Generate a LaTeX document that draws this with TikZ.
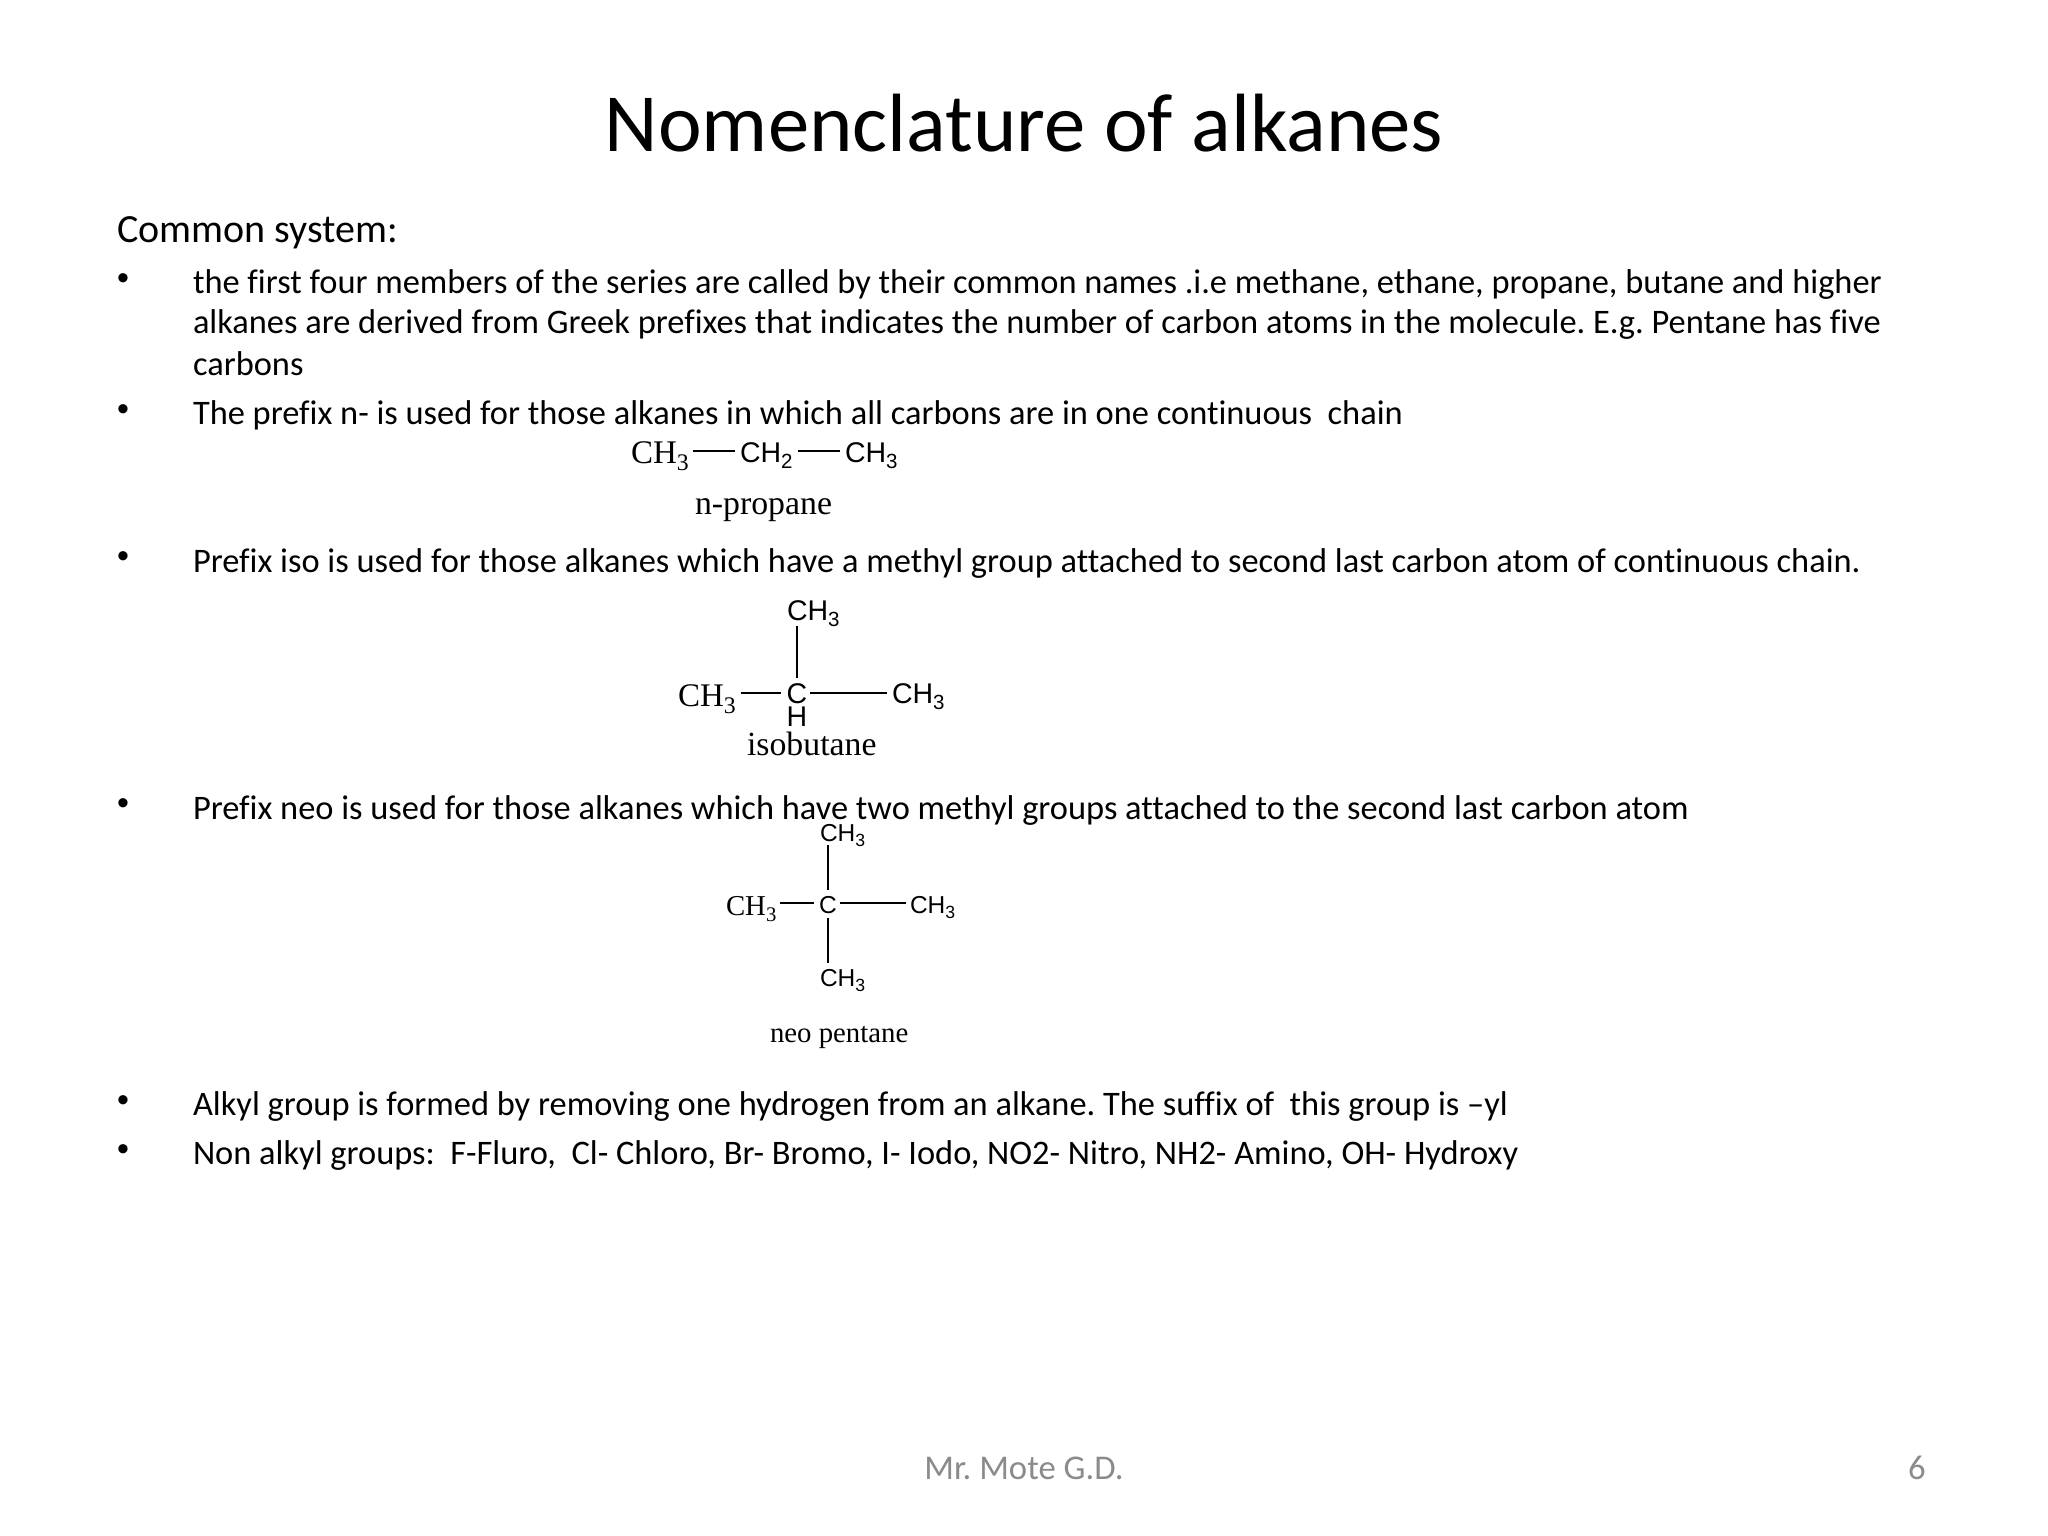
\documentclass[tikz,border=0pt]{standalone}
\usepackage{graphicx}
\usepackage{fontspec}
\setmainfont[Ligatures=NoCommon]{Carlito}
\newfontfamily\chemsans{Liberation Sans}
\newfontfamily\chemserif{Liberation Serif}
\usetikzlibrary{calc}
\frenchspacing
\newcommand\subs[1]{\raisebox{-0.24em}{\scalebox{0.72}{#1}}}
\newcommand\methyl{CH\subs{3}}
\definecolor{footgray}{HTML}{8B8B8B}
\tikzset{
  txt/.style={inner sep=0pt,outer sep=0pt,anchor=base west,text=black},
  slidetitle/.style={inner sep=0pt,anchor=base,font=\fontsize{82.7}{82.7}\selectfont},
  heading/.style={txt,font=\fontsize{40}{40}\selectfont},
  body/.style={txt,font=\fontsize{34.4}{34.4}\selectfont},
  bulletmark/.style={txt,font=\chemsans\fontsize{34}{34}\selectfont},
  footer/.style={inner sep=0pt,text=footgray,font=\fontsize{34.7}{34.7}\selectfont},
  sansA/.style={txt,font=\chemsans\fontsize{28.5}{28.5}\selectfont},
  serifA/.style={txt,font=\chemserif\fontsize{33}{33}\selectfont},
  nameA/.style={txt,font=\chemserif\fontsize{33.8}{33.8}\selectfont},
  sansB/.style={txt,font=\chemsans\fontsize{24.5}{24.5}\selectfont},
  serifB/.style={txt,font=\chemserif\fontsize{28.8}{28.8}\selectfont},
  bond/.style={draw=black,line width=2.4pt},
  thickbond/.style={draw=black,line width=2.8pt},
}
\begin{document}
\begin{tikzpicture}[x=1pt,y=-1pt]
\useasboundingbox (0,0) rectangle (2048,1536);
\fill[white] (0,0) rectangle (2048,1536);
\node[slidetitle] (title) at (1024,152) {Nomenclature of alkanes};
\node[heading] (common) at (117,242) {Common system:};
\foreach \n/\y in {a/289,b/420,c/567,d/814,e/1111,f/1160}
  \node[bulletmark] (bul\n) at (117,\y) {•};
\node[body] (l1) at (193,293) {the first four members of the series are called by their common names .i.e methane, ethane, propane, butane and higher};
\node[body] (l2) at (193,333) {alkanes are derived from Greek prefixes that indicates the number of carbon atoms in the molecule. E.g. Pentane has five};
\node[body] (l3) at (193,375) {carbons};
\node[body] (l4) at (193,424) {The prefix n- is used for those alkanes in which all carbons are in one continuous\ \ chain};
\node[body] (l5) at (193,572) {Prefix iso is used for those alkanes which have a methyl group attached to second last carbon atom of continuous chain.};
\node[body] (l6) at (193,819) {Prefix neo is used for those alkanes which have two methyl groups attached to the second last carbon atom};
\node[body] (l7) at (193,1115) {Alkyl group is formed by removing one hydrogen from an alkane. The suffix of\ \ this group is –yl};
\node[body] (l8) at (193,1164) {Non alkyl groups:\ \ F-Fluro,\ \ Cl- Chloro, Br- Bromo, I- Iodo, NO2- Nitro, NH2- Amino, OH- Hydroxy};
% n-propane
\node[serifA] (p1) at (631,463) {\methyl};
\node[sansA] (p2) at (740,462) {CH\subs{2}};
\node[sansA] (p3) at (845,462) {\methyl};
\node[nameA] (pname) at (695,514) {n-propane};
\draw[thickbond] ($(p1.base east)+(4,-12)$) -- ($(p2.base west)+(-5,-11)$);
\draw[thickbond] ($(p2.base east)+(5,-11)$) -- ($(p3.base west)+(-5,-11)$);
% isobutane
\node[sansA] (i1) at (787,620) {\methyl};
\node[serifA] (i2) at (678,706) {\methyl};
\node[sansA,anchor=base] (i3) at (797,703) {C};
\node[sansA,anchor=base] (i4) at (797,726) {H};
\node[sansA] (i5) at (892,703) {\methyl};
\node[nameA] (iname) at (747,755) {isobutane};
\draw[bond] ($(i3.base)+(0,-77)$) -- ($(i3.base)+(0,-25)$);
\draw[bond] ($(i2.base east)+(5,-13)$) -- ($(i3.base west)+(-6,-10)$);
\draw[bond] ($(i3.base east)+(3,-10)$) -- ($(i5.base west)+(-5,-10)$);
% neopentane
\node[sansB] (n1) at (820,841) {\methyl};
\node[serifB] (n2) at (726,915) {\methyl};
\node[sansB,anchor=base] (n3) at (828,913) {C};
\node[sansB] (n4) at (910,913) {\methyl};
\node[sansB] (n5) at (820,986) {\methyl};
\node[serifB] (nname) at (770,1042) {neo pentane};
\draw[bond] ($(n3.base)+(0,-68)$) -- ($(n3.base)+(0,-23)$);
\draw[bond] ($(n2.base east)+(4,-12)$) -- ($(n3.base west)+(-5,-10)$);
\draw[bond] ($(n3.base east)+(3,-10)$) -- ($(n4.base west)+(-4,-10)$);
\draw[bond] ($(n3.base)+(0,5)$) -- ($(n3.base)+(0,50)$);
% footer
\node[footer,anchor=base] (foot) at (1024,1479) {Mr. Mote G.D.};
\node[footer,anchor=base east] (num) at (1926,1479) {6};
\end{tikzpicture}
\end{document}
